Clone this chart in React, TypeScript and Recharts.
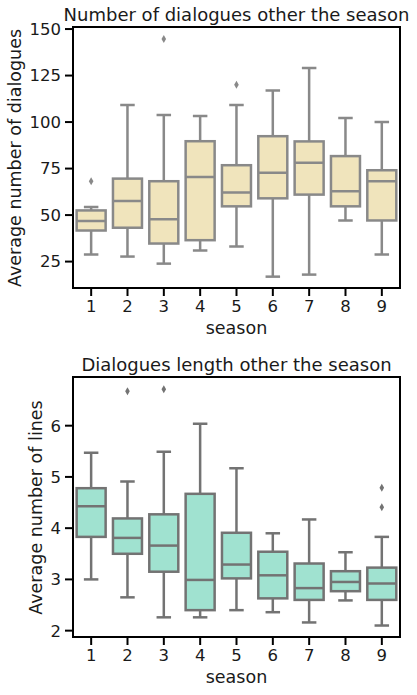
import React from 'react';
import { ComposedChart, Bar, XAxis, YAxis, ReferenceArea } from 'recharts';

const seasons = ['1', '2', '3', '4', '5', '6', '7', '8', '9'];

// Panel 1: number of dialogues
const dlgLow = [28.8, 27.7, 23.9, 30.9, 33.1, 16.9, 18.0, 47.1, 28.8];
const dlgQ1 = [41.7, 43.2, 34.7, 36.5, 54.7, 59.0, 61.0, 54.7, 47.1];
const dlgMed = [46.8, 57.6, 47.7, 70.5, 62.2, 72.7, 78.1, 62.8, 68.2];
const dlgQ3 = [52.5, 69.6, 68.2, 89.7, 76.8, 92.4, 89.6, 81.7, 74.1];
const dlgHigh = [54.3, 109.2, 103.8, 103.2, 109.2, 116.9, 129.1, 102.2, 100.0];
const dlgOut: number[][] = [[68.2], [], [144.6], [], [120.0], [], [], [], []];
const dlgTicks = [25, 50, 75, 100, 125, 150];

// Panel 2: dialogue length
const lenLow = [3.0, 2.65, 2.26, 2.26, 2.4, 2.36, 2.16, 2.59, 2.1];
const lenQ1 = [3.83, 3.5, 3.15, 2.4, 3.02, 2.63, 2.6, 2.77, 2.6];
const lenMed = [4.43, 3.81, 3.66, 2.99, 3.29, 3.08, 2.83, 2.95, 2.92];
const lenQ3 = [4.78, 4.19, 4.27, 4.67, 3.91, 3.54, 3.31, 3.16, 3.23];
const lenHigh = [5.47, 4.91, 5.49, 6.04, 5.17, 3.9, 4.17, 3.53, 3.83];
const lenOut: number[][] = [[], [6.67], [6.71], [], [], [], [], [], [4.79, 4.41]];
const lenTicks = [2, 3, 4, 5, 6];

type Row = {
  season: string;
  low: number;
  q1: number;
  med: number;
  q3: number;
  high: number;
  out: number[];
  range: [number, number];
};

function buildRows(
  low: number[],
  q1: number[],
  med: number[],
  q3: number[],
  high: number[],
  out: number[][]
): Row[] {
  return seasons.map((s, i) => ({
    season: s,
    low: low[i],
    q1: q1[i],
    med: med[i],
    q3: q3[i],
    high: high[i],
    out: out[i],
    range: [low[i], high[i]],
  }));
}

const dlgRows = buildRows(dlgLow, dlgQ1, dlgMed, dlgQ3, dlgHigh, dlgOut);
const lenRows = buildRows(lenLow, lenQ1, lenMed, lenQ3, lenHigh, lenOut);

const FONT = 'DejaVu Sans';
const TEXT = '#1a1a1a';

function makeBoxShape(stroke: string, fill: string) {
  return (props: any) => {
    const { x, y, width, height, payload } = props;
    if (!payload) return <g />;
    const { low, high, q1, med, q3, out } = payload as Row;
    const top = Math.min(y, y + height);
    const bottom = Math.max(y, y + height);
    const k = (bottom - top) / (high - low);
    const py = (v: number) => top + (high - v) * k;
    const cx = x + width / 2;
    const capHalf = width / 4;
    const sw = 2.5;
    return (
      <g>
        <line x1={cx} x2={cx} y1={py(high)} y2={py(q3)} stroke={stroke} strokeWidth={sw} />
        <line x1={cx} x2={cx} y1={py(q1)} y2={py(low)} stroke={stroke} strokeWidth={sw} />
        <rect
          x={x}
          y={py(q3)}
          width={width}
          height={py(q1) - py(q3)}
          fill={fill}
          stroke={stroke}
          strokeWidth={sw}
        />
        <line x1={x} x2={x + width} y1={py(med)} y2={py(med)} stroke={stroke} strokeWidth={sw} />
        <line x1={cx - capHalf} x2={cx + capHalf} y1={py(high)} y2={py(high)} stroke={stroke} strokeWidth={sw} />
        <line x1={cx - capHalf} x2={cx + capHalf} y1={py(low)} y2={py(low)} stroke={stroke} strokeWidth={sw} />
        {out.map((v, i) => {
          const oy = py(v);
          return (
            <polygon
              key={i}
              points={`${cx},${oy - 4} ${cx + 2.3},${oy} ${cx},${oy + 4} ${cx - 2.3},${oy}`}
              fill={stroke}
              stroke="none"
            />
          );
        })}
      </g>
    );
  };
}

type PanelProps = {
  rows: Row[];
  domain: [number, number];
  ticks: number[];
  title: string;
  yLabel: string;
  yLabelX: number;
  height: number;
  xAxisHeight: number;
  stroke: string;
  fill: string;
};

function Panel(p: PanelProps) {
  const plotTop = 27;
  const plotLeft = 73;
  const plotRight = 400;
  const plotBottom = p.height - p.xAxisHeight;
  const cx = (plotLeft + plotRight) / 2;
  const cy = (plotTop + plotBottom) / 2 + 0.5;
  const axisStroke = { stroke: '#000', strokeWidth: 2 };
  return (
    <ComposedChart
      width={417}
      height={p.height}
      data={p.rows}
      margin={{ top: plotTop, right: 417 - plotRight, bottom: 0, left: 0 }}
      barCategoryGap="10%"
    >
      <XAxis
        dataKey="season"
        type="category"
        height={p.xAxisHeight}
        tickSize={8}
        tickMargin={4}
        interval={0}
        axisLine={axisStroke}
        tickLine={axisStroke}
        tick={{ fontSize: 16.5, fill: TEXT, fontFamily: FONT }}
        label={{
          content: () => (
            <text x={cx} y={plotBottom + 46} textAnchor="middle" fontSize={17.5} fill={TEXT} fontFamily={FONT}>
              season
            </text>
          ),
        }}
      />
      <YAxis
        type="number"
        domain={p.domain}
        ticks={p.ticks}
        allowDataOverflow
        width={plotLeft}
        tickSize={8}
        tickMargin={4}
        interval={0}
        axisLine={axisStroke}
        tickLine={axisStroke}
        tick={{ fontSize: 16.5, fill: TEXT, fontFamily: FONT }}
        label={{
          content: () => (
            <text
              x={p.yLabelX}
              y={cy}
              textAnchor="middle"
              fontSize={17.5}
              fill={TEXT}
              fontFamily={FONT}
              transform={`rotate(-90, ${p.yLabelX}, ${cy})`}
            >
              {p.yLabel}
            </text>
          ),
        }}
      />
      <Bar
        dataKey="range"
        isAnimationActive={false}
        shape={makeBoxShape(p.stroke, p.fill)}
      />
      <ReferenceArea
        y1={p.domain[0]}
        y2={p.domain[1]}
        ifOverflow="visible"
        fill="none"
        fillOpacity={0}
        stroke="#000"
        strokeWidth={2}
        label={{
          content: () => (
            <text x={cx} y={20.5} textAnchor="middle" fontSize={18} fill={TEXT} fontFamily={FONT}>
              {p.title}
            </text>
          ),
        }}
      />
    </ComposedChart>
  );
}

export default function App() {
  return (
    <div
      style={{
        position: 'absolute',
        left: 0,
        top: 0,
        width: 417,
        height: 695,
        background: '#fff',
        fontFamily: FONT,
      }}
    >
      <div style={{ position: 'absolute', left: 0, top: 0 }}>
        <Panel
          rows={dlgRows}
          domain={[10.8, 151.1]}
          ticks={dlgTicks}
          title="Number of dialogues other the season"
          yLabel="Average number of dialogues"
          yLabelX={21}
          height={350}
          xAxisHeight={62}
          stroke="#898989"
          fill="#f0e4bc"
        />
      </div>
      <div style={{ position: 'absolute', left: 0, top: 350 }}>
        <Panel
          rows={lenRows}
          domain={[1.876, 6.95]}
          ticks={lenTicks}
          title="Dialogues length other the season"
          yLabel="Average number of lines"
          yLabelX={42}
          height={345}
          xAxisHeight={58}
          stroke="#737373"
          fill="#a0e2d0"
        />
      </div>
    </div>
  );
}
